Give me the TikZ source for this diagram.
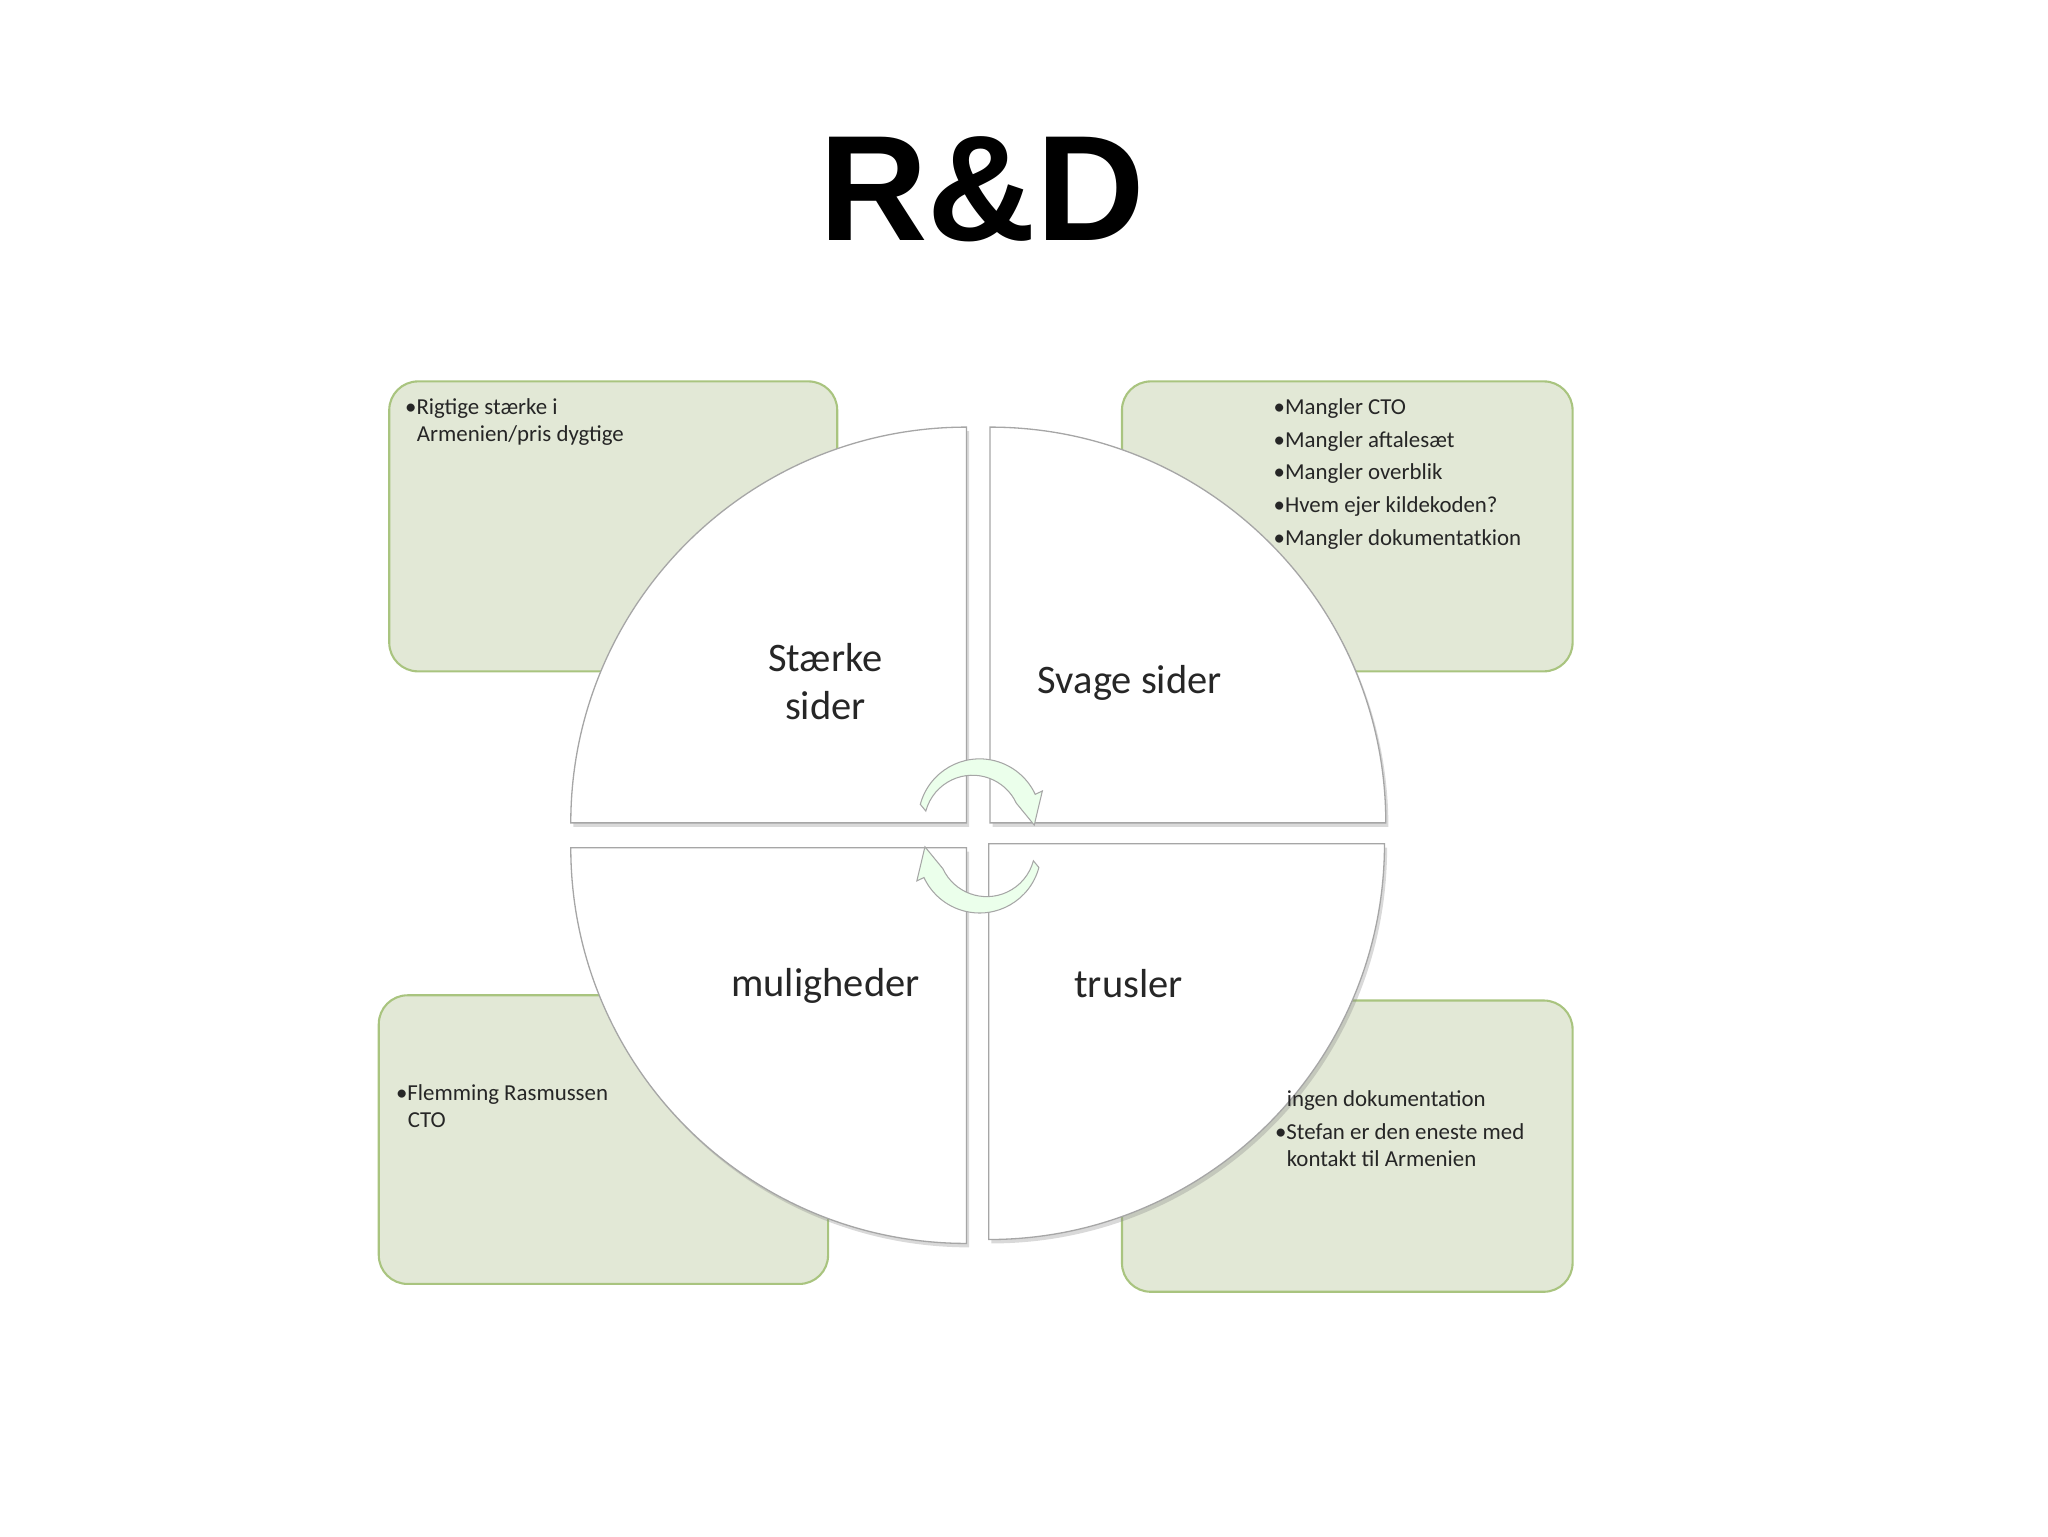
\documentclass[tikz,border=0pt]{standalone}
\usepackage{fontspec}
\setmainfont{Carlito}
\newfontfamily\titlefont{Liberation Sans}
\usetikzlibrary{shadows}
\definecolor{olivebd}{HTML}{A9C47F}
\definecolor{olivefill}{HTML}{E2E8D6}
\tikzset{
  gbox/.style={draw=olivebd,fill=olivefill,line width=1.6pt,rounded corners=22pt},
  quad/.style={draw=gray!70,fill=white,line width=1pt,drop shadow={opacity=0.3,shadow xshift=2pt,shadow yshift=-3pt}},
  qlabel/.style={font=\fontsize{31}{37}\selectfont,align=center,text=black!85},
  btxt/.style={font=\fontsize{17.5}{21}\selectfont,align=left,anchor=north west,inner sep=0pt,text=black!85},
  carr/.style={draw=gray!70,fill=green!8,line width=0.8pt}
}
\begin{document}
\begin{tikzpicture}[x=1pt,y=1pt]
\useasboundingbox (0,0) rectangle (1568,-1176);
\node[font=\titlefont\bfseries\fontsize{115}{120}\selectfont] (title) at (752,-145) {R\&D};
\draw[gbox] (298,-292) rectangle (641,-514);
\draw[gbox] (859,-292) rectangle (1204,-514);
\draw[gbox] (290,-762) rectangle (634,-983);
\draw[gbox] (859,-766) rectangle (1204,-989);
% quadrants
\draw[quad] (740,-630) -- (437,-630) arc[start angle=180,end angle=90,radius=303] -- cycle;
\draw[quad] (758,-630) -- (758,-327) arc[start angle=90,end angle=0,radius=303] -- cycle;
\draw[quad] (740,-649) -- (437,-649) arc[start angle=180,end angle=270,radius=303] -- cycle;
\draw[quad] (757,-646) -- (1060,-646) arc[start angle=0,end angle=-90,radius=303] -- cycle;
\node[qlabel] (s) at (632,-522) {Stærke\\sider};
\node[qlabel] (w) at (865,-523) {Svage sider};
\node[qlabel] (o) at (632,-755) {muligheder};
\node[qlabel] (t) at (864,-753) {trusler};
% circular arrows
\draw[carr] ([shift={(165:47)}]750,-628) arc[start angle=165,end angle=25,radius=47]
  -- ([shift={(25:53)}]750,-628) -- ([shift={(-5:42)}]750,-628) -- ([shift={(25:31)}]750,-628)
  arc[start angle=25,end angle=165,radius=37] -- cycle;
\draw[carr] ([shift={(-15:47)}]750,-652) arc[start angle=-15,end angle=-155,radius=47]
  -- ([shift={(-155:53)}]750,-652) -- ([shift={(-185:42)}]750,-652) -- ([shift={(-155:31)}]750,-652)
  arc[start angle=-155,end angle=-15,radius=37] -- cycle;
% box texts
\node[btxt] (t1) at (310,-305) {•Rigtige stærke i\\\hspace*{9pt}Armenien/pris dygtige};
\node[btxt] (t2) at (975,-305) {•Mangler CTO\\[4pt]•Mangler aftalesæt\\[4pt]•Mangler overblik\\[4pt]•Hvem ejer kildekoden?\\[4pt]•Mangler dokumentatkion};
\node[btxt] (t3) at (303,-830) {•Flemming Rasmussen\\\hspace*{9pt}CTO};
\node[btxt] (t4) at (976,-835) {\hspace*{9pt}ingen dokumentation\\[4pt]•Stefan er den eneste med\\\hspace*{9pt}kontakt til Armenien};
\end{tikzpicture}
\end{document}
